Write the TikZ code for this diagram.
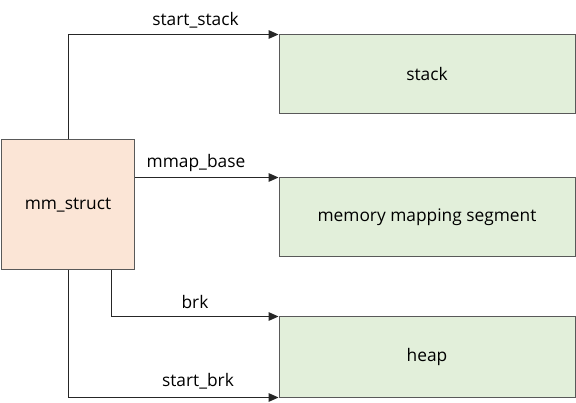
\documentclass[tikz,border=0pt]{standalone}
\usepackage{fontspec}
\setmainfont{Open Sans}
\usetikzlibrary{arrows.meta}
\definecolor{peach}{HTML}{FBE5D6}
\definecolor{lgreen}{HTML}{E2EFDA}
\definecolor{bordergray}{HTML}{595959}
\begin{document}
\begin{tikzpicture}[x=0.75pt,y=-0.75pt,
  box/.style={draw=bordergray,line width=0.75pt,minimum width=#1,inner sep=0pt,font=\fontsize{13}{15}\selectfont},
  membox/.style={box=222pt,fill=lgreen,minimum height=59.25pt},
  conn/.style={draw=black!85,line width=0.75pt,-{Triangle[length=7.5pt,width=6.5pt]}},
  lbl/.style={anchor=base,inner sep=0pt,font=\fontsize{13}{15}\selectfont}]
\useasboundingbox (0,0) rectangle (576,403);
\node[box=99.75pt,fill=peach,minimum height=97.5pt] (mm) at (68,205) {mm\_struct};
\node[membox] (stack) at (427,74.5) {stack};
\node[membox] (mem) at (427,217.5) {memory mapping segment};
\node[membox,minimum height=60pt] (heap) at (427,357) {heap};
\coordinate (brkstart) at (111,270);
\draw[conn] (mm.north) |- (stack.north west);
\draw[conn] (mem.north west -| mm.east) -- (mem.north west);
\draw[conn] (brkstart) |- (heap.north west);
\draw[conn] (mm.south) |- (heap.south west);
\node[lbl] (l1) at (195.5,25.5) {start\_stack};
\node[lbl] (l2) at (196,168) {mmap\_base};
\node[lbl] (l3) at (195,309) {brk};
\node[lbl] (l4) at (198,387) {start\_brk};
\end{tikzpicture}
\end{document}
